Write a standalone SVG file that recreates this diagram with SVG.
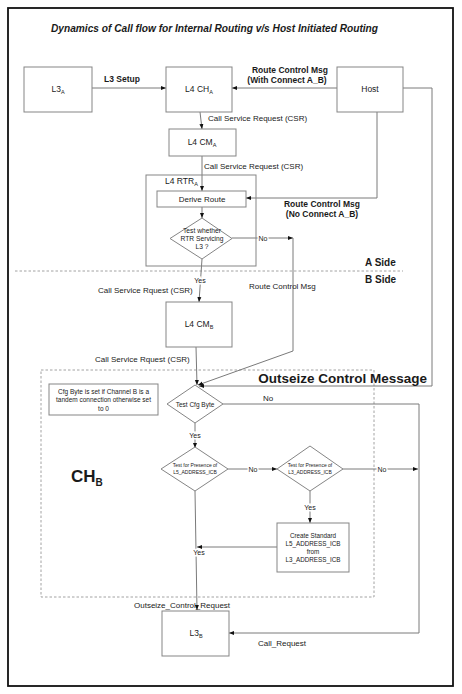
<svg xmlns="http://www.w3.org/2000/svg" width="462" height="694" viewBox="0 0 462 694">
<style>
text{font-family:"Liberation Sans",Arial,sans-serif;fill:#1a1a1a}
.b{font-weight:bold}
.box{fill:#fff;stroke:#858585;stroke-width:1}
.ln{fill:none;stroke:#7a7a7a;stroke-width:1}
.arr{marker-end:url(#ah)}
.dash{fill:none;stroke:#8a8a8a;stroke-width:0.8;stroke-dasharray:2.5,2}
.m{text-anchor:middle}
.lbl{paint-order:stroke;stroke:#fff;stroke-width:3px}
.s8{font-size:8px}
.s7{font-size:7px}
</style>
<defs>
<marker id="ah" viewBox="0 0 10 10" refX="10" refY="5" markerWidth="5" markerHeight="5" markerUnits="userSpaceOnUse" orient="auto">
<path d="M0,1 L10,5 L0,9 z" fill="#111"/>
</marker>
</defs>
<rect x="0" y="0" width="462" height="694" fill="#fff"/>
<rect x="8" y="8" width="445" height="678" fill="none" stroke="#111" stroke-width="1.8"/>
<text x="51" y="31.5" class="b" font-style="italic" font-size="10.5" textLength="327" lengthAdjust="spacingAndGlyphs">Dynamics of Call flow for Internal Routing v/s Host Initiated Routing</text>

<g id="dividers">
<line x1="15" y1="271" x2="403" y2="271" class="dash"/>
<rect x="41" y="370" width="333" height="227" class="dash"/>
<text x="365" y="266" class="b" font-size="10">A Side</text>
<text x="365" y="283" class="b" font-size="10">B Side</text>
<text x="71" y="482" class="b" font-size="17">CH<tspan font-size="10" dy="4">B</tspan></text>
</g>

<g id="connectors">
<line x1="92" y1="88" x2="166" y2="88" class="ln arr"/>
<line x1="337" y1="88" x2="232" y2="88" class="ln arr"/>
<line x1="200" y1="112" x2="202" y2="129" class="ln arr"/>
<line x1="202" y1="156" x2="202" y2="191" class="ln arr"/>
<polyline points="377,112 377,198 246,198" class="ln arr"/>
<line x1="202" y1="207" x2="202" y2="218" class="ln arr"/>
<line x1="232" y1="238" x2="293" y2="238" class="ln arr"/>
<polyline points="293,238 293,351 198,385" class="ln arr"/>
<line x1="202" y1="259" x2="199" y2="302" class="ln arr"/>
<line x1="196" y1="347" x2="197" y2="385" class="ln arr"/>
<polyline points="403,88 432,88 432,386 199,386" class="ln arr"/>
<polyline points="223,404 419,404 419,633 229,633" class="ln arr"/>
<line x1="195" y1="423" x2="195" y2="448" class="ln arr"/>
<line x1="228" y1="469" x2="277" y2="469" class="ln arr"/>
<line x1="343" y1="469" x2="418" y2="469" class="ln arr"/>
<line x1="310" y1="491" x2="310" y2="523" class="ln arr"/>
<line x1="277" y1="547" x2="197" y2="547" class="ln arr"/>
<line x1="195" y1="491" x2="197" y2="610" class="ln arr"/>

<text x="122" y="82" class="b m" font-size="8.5">L3 Setup</text>
<text x="290" y="73" class="b m" font-size="8.5">Route Control Msg</text>
<text x="287" y="83" class="b m" font-size="8.5">(With Connect A_B)</text>
<text x="208" y="121" class="s8">Call Service Request (CSR)</text>
<text x="204" y="169" class="s8">Call Service Request (CSR)</text>
<text x="322" y="207" class="b m" font-size="8.5">Route Control Msg</text>
<text x="322" y="217" class="b m" font-size="8.5">(No Connect A_B)</text>
<text x="263" y="240.5" class="s7 m lbl">No</text>
<text x="200" y="283" class="s7 m lbl">Yes</text>
<text x="98" y="293" class="s8">Call Service Rquest (CSR)</text>
<text x="249" y="289" class="s8">Route Control Msg</text>
<text x="95" y="362" class="s8">Call Service Rquest (CSR)</text>
<text x="427" y="383" class="b" font-size="13.5" text-anchor="end">Outseize Control Message</text>
<text x="268" y="400.5" class="s8 m">No</text>
<text x="195" y="437.5" class="s7 m lbl">Yes</text>
<text x="253" y="471.5" class="s7 m lbl">No</text>
<text x="382" y="471.5" class="s7 m lbl">No</text>
<text x="310" y="509.5" class="s7 m lbl">Yes</text>
<text x="199" y="554.5" class="s7 m lbl">Yes</text>
<text x="134" y="608" class="s8">Outseize_Control_Request</text>
<text x="258" y="646" class="s8">Call_Request</text>
</g>

<g id="L3A">
<rect x="24" y="67" width="68" height="45" class="box"/>
<text x="58" y="92" class="m" font-size="8.5">L3<tspan font-size="5.5" dy="2">A</tspan></text>
</g>
<g id="L4CHA">
<rect x="166" y="67" width="66" height="45" class="box"/>
<text x="199" y="92" class="m" font-size="8.5">L4 CH<tspan font-size="5.5" dy="2">A</tspan></text>
</g>
<g id="Host">
<rect x="337" y="67" width="66" height="45" class="box"/>
<text x="370" y="92" class="m" font-size="8.5">Host</text>
</g>
<g id="L4CMA">
<rect x="169" y="129" width="67" height="27" class="box"/>
<text x="202" y="145" class="m" font-size="8.5">L4 CM<tspan font-size="5.5" dy="2">A</tspan></text>
</g>
<g id="L4RTRA">
<rect x="146" y="175" width="110" height="91" fill="none" stroke="#858585"/>
<text x="165" y="184" font-size="8.5">L4 RTR<tspan font-size="5.5" dy="2">A</tspan></text>
</g>
<g id="DeriveRoute">
<rect x="157" y="191" width="89" height="16" class="box"/>
<text x="202" y="202" class="m s8">Derive Route</text>
</g>
<g id="TestRTR">
<polygon points="202,218 232,238.5 202,259 170,238.5" class="box"/>
<text x="202" y="232.5" class="m" font-size="6.7">Test whether</text>
<text x="202" y="240.5" class="m" font-size="6.7">RTR Servicing</text>
<text x="202" y="248.5" class="m" font-size="6.7">L3 ?</text>
</g>
<g id="L4CMB">
<rect x="166" y="302" width="66" height="45" class="box"/>
<text x="199" y="327" class="m" font-size="8.5">L4 CM<tspan font-size="5.5" dy="2">B</tspan></text>
</g>
<g id="CfgNote">
<rect x="49" y="384" width="109" height="31" class="box"/>
<text x="103.5" y="394" class="m" font-size="6.5">Cfg Byte is set if Channel B is a</text>
<text x="103.5" y="402.3" class="m" font-size="6.5">tandem connection otherwise set</text>
<text x="103.5" y="410.6" class="m" font-size="6.5">to 0</text>
</g>
<g id="TestCfg">
<polygon points="195,385 223,404 195,423 167,404" class="box"/>
<text x="195" y="406.5" class="m" font-size="6.5">Test Cfg Byte</text>
</g>
<g id="TestL5">
<polygon points="195,447 228,469 195,491 161,469" class="box"/>
<text x="195" y="467" class="m" font-size="5">Test for Presence of</text>
<text x="195" y="474" class="m" font-size="5">L5_ADDRESS_ICB</text>
</g>
<g id="TestL3">
<polygon points="310,446 343,469 310,491 277,469" class="box"/>
<text x="310" y="467" class="m" font-size="5">Test for Presence of</text>
<text x="310" y="474" class="m" font-size="5">L3_ADDRESS_ICB</text>
</g>
<g id="CreateL5">
<rect x="277" y="523" width="72" height="49" class="box"/>
<text x="313" y="538" class="m" font-size="6.3">Create Standard</text>
<text x="313" y="546" class="m" font-size="6.3">L5_ADDRESS_ICB</text>
<text x="313" y="554" class="m" font-size="6.3">from</text>
<text x="313" y="562" class="m" font-size="6.3">L3_ADDRESS_ICB</text>
</g>
<g id="L3B">
<rect x="162" y="611" width="67" height="45" class="box"/>
<text x="196" y="636" class="m" font-size="8.5">L3<tspan font-size="5.5" dy="2">B</tspan></text>
</g>
</svg>
